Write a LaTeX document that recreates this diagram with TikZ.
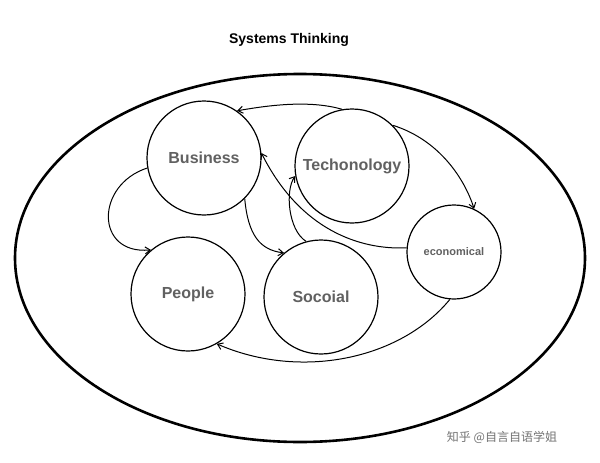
\documentclass[tikz,border=0pt]{standalone}
\usepackage{fontspec}
\setmainfont{Liberation Sans}
\newfontfamily\cjk{Noto Sans CJK SC}
\usetikzlibrary{arrows.meta}
\begin{document}
\begin{tikzpicture}[x=1pt,y=-1pt,
  bubble/.style={circle,draw,line width=1.2pt,text=black!62,inner sep=0pt,font=\fontsize{16}{18}\selectfont\bfseries},
  link/.style={-{Straight Barb[length=5pt,width=7pt]},line width=1pt}]
\useasboundingbox (0,0) rectangle (600,463);
\fill[white] (0,0) rectangle (600,463);
\node (title) at (289,40) {\fontsize{14}{16}\selectfont\bfseries Systems Thinking};
\draw[line width=2.6pt] (300,258) ellipse [x radius=285, y radius=184];
\node[bubble,minimum size=114pt] (bus) at (204,158) {Business};
\node[bubble,minimum size=114pt] (tech) at (352,166) {Techonology};
\node[bubble,minimum size=94pt,font=\fontsize{11}{13}\selectfont\bfseries] (eco) at (454,252) {economical};
\node[bubble,minimum size=114pt] (peo) at (188,294) {People};
\node[bubble,minimum size=114pt] (soc) at (321,297) {Socoial};
\draw[link] (tech.100) .. controls (310,100) and (270,105) .. (bus.55);
\draw[link] (tech.45) .. controls (440,140) and (465,180) .. (eco.65);
\draw[link] (bus.190) .. controls (95,185) and (95,255) .. (peo.130);
\draw[link] (bus.-45) .. controls (248,235) and (260,250) .. (soc.130);
\draw[link] (soc.105) .. controls (288,230) and (285,190) .. (tech.190);
\draw[link] (eco.175) .. controls (360,250) and (300,230) .. (bus.5);
\draw[link] (eco.-95) .. controls (400,360) and (300,380) .. (peo.-60);
\node[text=black!55] (wm) at (502,437) {\fontsize{12}{14}\selectfont\cjk 知乎 @自言自语学姐};
\end{tikzpicture}
\end{document}
